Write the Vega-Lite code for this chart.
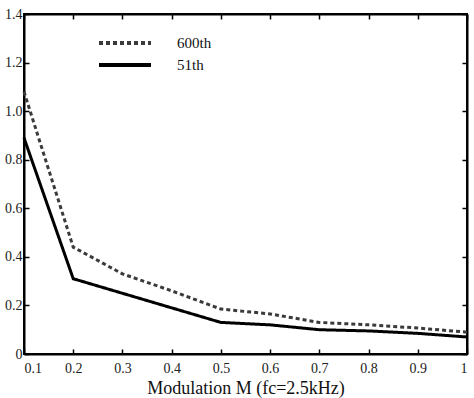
{
  "$schema": "https://vega.github.io/schema/vega-lite/v6.json",
  "width": 443,
  "height": 340,
  "autosize": {"type": "none"},
  "padding": {"left": 24, "top": 14, "right": 7, "bottom": 44},
  "background": "white",
  "config": {
    "font": "Liberation Serif",
    "view": {"stroke": "black", "strokeWidth": 2},
    "axis": {"grid": false, "domainColor": "black", "domainWidth": 2, "tickColor": "black", "tickWidth": 1.5, "tickSize": 5, "labelFont": "Liberation Serif", "labelFontSize": 14, "labelColor": "#222", "titleFont": "Liberation Serif", "titleFontSize": 18, "titleFontWeight": "normal", "titleColor": "#111"},
    "legend": {"labelFont": "Liberation Serif"}
  },
  "data": {
    "values": [
      {"m": 0.1, "v": 1.08, "s": "600th"},
      {"m": 0.2, "v": 0.44, "s": "600th"},
      {"m": 0.3, "v": 0.33, "s": "600th"},
      {"m": 0.4, "v": 0.26, "s": "600th"},
      {"m": 0.5, "v": 0.185, "s": "600th"},
      {"m": 0.6, "v": 0.165, "s": "600th"},
      {"m": 0.7, "v": 0.13, "s": "600th"},
      {"m": 0.8, "v": 0.12, "s": "600th"},
      {"m": 0.9, "v": 0.107, "s": "600th"},
      {"m": 1.0, "v": 0.09, "s": "600th"},
      {"m": 0.1, "v": 0.89, "s": "51th"},
      {"m": 0.2, "v": 0.31, "s": "51th"},
      {"m": 0.3, "v": 0.25, "s": "51th"},
      {"m": 0.4, "v": 0.19, "s": "51th"},
      {"m": 0.5, "v": 0.13, "s": "51th"},
      {"m": 0.6, "v": 0.12, "s": "51th"},
      {"m": 0.7, "v": 0.10, "s": "51th"},
      {"m": 0.8, "v": 0.095, "s": "51th"},
      {"m": 0.9, "v": 0.085, "s": "51th"},
      {"m": 1.0, "v": 0.07, "s": "51th"}
    ]
  },
  "layer": [
    {
      "mark": {"type": "line", "strokeWidth": 3},
      "encoding": {
        "x": {"field": "m", "type": "quantitative", "scale": {"domain": [0.1, 1], "nice": false, "zero": false},
          "axis": {"values": [0.1,0.2,0.3,0.4,0.5,0.6,0.7,0.8,0.9,1], "title": "Modulation M (fc=2.5kHz)", "tickSize": -5, "labelPadding": 12, "titlePadding": 4, "format": "~g", "labelFont": "Liberation Serif", "titleFont": "Liberation Serif"}},
        "y": {"field": "v", "type": "quantitative", "scale": {"domain": [0, 1.4], "nice": false},
          "axis": {"values": [0,0.2,0.4,0.6,0.8,1.0,1.2,1.4], "title": null, "tickSize": -5, "labelPadding": 7, "labelFont": "Liberation Serif", "labelExpr": "datum.value == 0 ? '0' : format(datum.value, '.1f')"}},
        "color": {"field": "s", "type": "nominal", "scale": {"domain": ["600th", "51th"], "range": ["#3a3a3a", "#000000"]},
          "legend": {"orient": "none", "legendX": 89, "legendY": 17, "title": null, "symbolType": "M-2.6,0L2.6,0", "symbolSize": 400, "symbolStrokeWidth": 4, "labelFontSize": 15, "labelFontWeight": "normal", "labelColor": "#111", "rowPadding": 2, "labelOffset": 40}},
        "strokeDash": {"field": "s", "type": "nominal", "scale": {"domain": ["600th", "51th"], "range": [[4, 3], [1, 0]]}, "legend": null}
      }
    },
    {
      "mark": {"type": "rule", "opacity": 0},
      "encoding": {
        "x": {"field": "m", "type": "quantitative", "axis": {"orient": "top", "values": [0.1,0.2,0.3,0.4,0.5,0.6,0.7,0.8,0.9,1], "labels": false, "title": null, "tickSize": -5}},
        "y": {"field": "v", "type": "quantitative", "axis": {"orient": "right", "values": [0,0.2,0.4,0.6,0.8,1.0,1.2,1.4], "labels": false, "title": null, "tickSize": -5}}
      }
    }
  ],
  "resolve": {"axis": {"x": "independent", "y": "independent"}}
}
